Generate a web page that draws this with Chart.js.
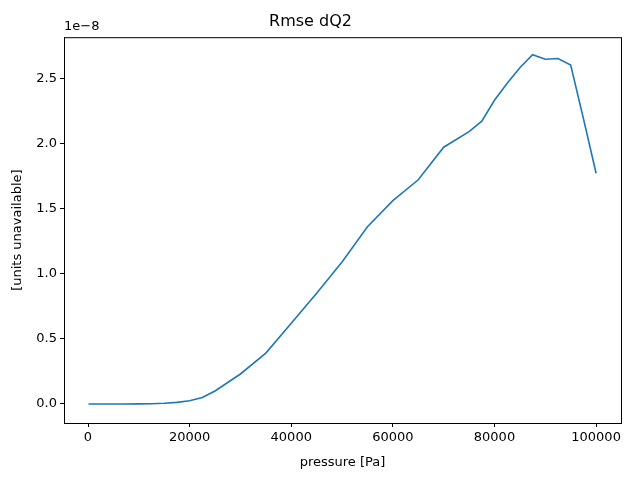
<!DOCTYPE html>
<html>
<head>
<meta charset="utf-8">
<script src="https://cdn.jsdelivr.net/npm/chart.js@4/dist/chart.umd.min.js"></script>
<style>
  body { margin: 0; background: #fff; }
  #wrap { width: 640px; height: 480px; }
</style>
</head>
<body>
<div id="wrap"><canvas id="chart"></canvas></div>
<script>
// pressure levels [Pa]
const PRESSURE = [100, 200, 300, 500, 700, 1000, 2000, 3000, 5000, 7000, 10000, 12500, 15000,
  17500, 20000, 22500, 25000, 30000, 35000, 40000, 45000, 50000, 55000, 60000, 65000,
  70000, 75000, 77500, 80000, 82500, 85000, 87500, 90000, 92500, 95000, 97500, 100000];
// rmse in units of 1e-8
const RMSE = [0, 0, 0, 0, 0, 0, 0, 0, 0, 0, 0.001, 0.002, 0.005,
  0.012, 0.025, 0.05, 0.10, 0.23, 0.39, 0.62, 0.85, 1.09, 1.36, 1.56, 1.72,
  1.97, 2.09, 2.17, 2.33, 2.46, 2.58, 2.68, 2.645, 2.65, 2.60, 2.19, 1.77];
const SCALE_LABEL = "1e\u22128";

const font = { family: "DejaVu Sans", size: 13 };

const frame = {
  id: "frame",
  afterDraw(chart) {
    const { ctx, chartArea: a } = chart;
    ctx.save();
    ctx.strokeStyle = "#000";
    ctx.lineWidth = 1;
    ctx.strokeRect(a.left + 0.5, a.top + 0.5, a.right - a.left, a.bottom - a.top);
    ctx.fillStyle = "#000";
    ctx.font = "13px DejaVu Sans";
    ctx.textBaseline = "bottom";
    ctx.fillText(SCALE_LABEL, a.left, a.top - 4);
    ctx.restore();
  }
};

new Chart(document.getElementById("chart"), {
  type: "line",
  data: {
    labels: PRESSURE,
    datasets: [{
      data: PRESSURE.map((p, i) => ({ x: p, y: RMSE[i] })),
      borderColor: "#1f77b4",
      borderWidth: 1.6,
      pointRadius: 0,
      tension: 0,
      fill: false
    }]
  },
  options: {
    responsive: true,
    maintainAspectRatio: false,
    animation: false,
    layout: { padding: { left: 0, right: 19, top: 0, bottom: 0 } },
    plugins: {
      legend: { display: false },
      tooltip: { enabled: false },
      title: {
        display: true,
        text: "Rmse dQ2",
        color: "#000",
        font: { family: "DejaVu Sans", size: 16, weight: "normal" },
        padding: { top: 12, bottom: 6 }
      }
    },
    scales: {
      x: {
        type: "linear",
        min: -4724,
        max: 104900,
        afterBuildTicks: (s) => { s.ticks = [0, 20000, 40000, 60000, 80000, 100000].map(v => ({ value: v })); },
        afterFit: (s) => { s.height = 57; },
        grid: { drawOnChartArea: false, tickLength: 4, color: "#000" },
        border: { color: "#000" },
        ticks: { color: "#000", font, callback: (v) => String(v) },
        title: { display: true, text: "pressure [Pa]", color: "#000", font, padding: { top: 0, bottom: 10 } }
      },
      y: {
        min: -0.146,
        max: 2.814,
        afterBuildTicks: (s) => { s.ticks = [0, 0.5, 1, 1.5, 2, 2.5].map(v => ({ value: v })); },
        afterFit: (s) => { s.width = 64; },
        grid: { drawOnChartArea: false, tickLength: 4, color: "#000" },
        border: { color: "#000" },
        ticks: { color: "#000", font, callback: (v) => v.toFixed(1) },
        title: { display: true, text: "[units unavailable]", color: "#000", font, padding: { top: 10, bottom: 4 } }
      }
    }
  },
  plugins: [frame]
});
</script>
</body>
</html>
